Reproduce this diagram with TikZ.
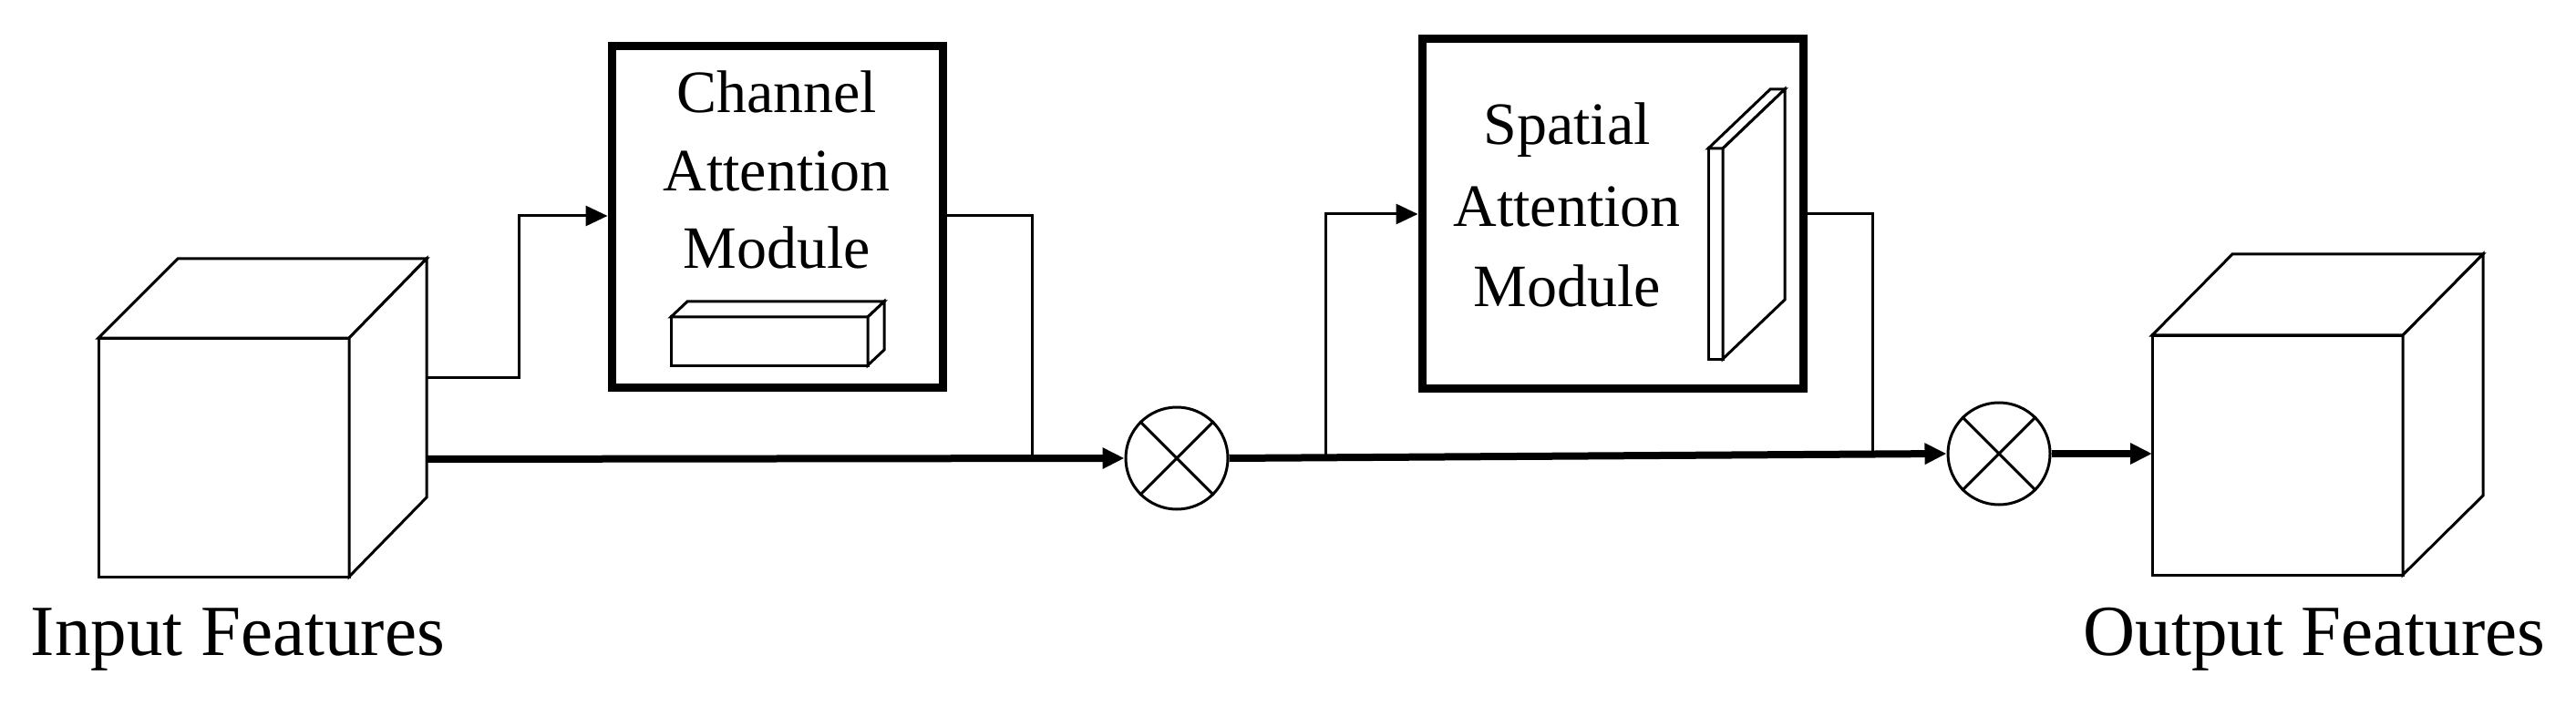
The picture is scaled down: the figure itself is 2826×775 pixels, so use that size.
\documentclass[tikz,border=0pt]{standalone}
\usepackage{fontspec}
\setmainfont{Liberation Serif}
\usetikzlibrary{arrows.meta}
\begin{document}
\begin{tikzpicture}[x=1pt,y=-1pt,line join=miter,
  thin line/.style={line width=3pt},
  thick line/.style={line width=8pt},
  arr/.style={-{Triangle[length=24pt,width=22pt]}},
  module/.style={draw,line width=9pt},
  cube/.style={draw,line width=3pt,fill=white},
  txt/.style={font=\fontsize{66}{80}\selectfont,align=center,inner sep=0pt},
  lbl/.style={font=\fontsize{79}{90}\selectfont,inner sep=0pt},
  mult/.style={draw,circle,line width=3pt,minimum size=112pt,inner sep=0pt}]
\useasboundingbox (0,0) rectangle (2826,775);
% input cube
\draw[cube] (108,371) rectangle (383,633);
\draw[cube] (108,371) -- (195,284) -- (468,284) -- (383,371) -- cycle;
\draw[cube] (383,371) -- (468,284) -- (468,546) -- (383,633) -- cycle;
\coordinate (inU) at (468,414);
\coordinate (inM) at (468,504);
% output cube
\draw[cube] (2361,368) rectangle (2636,631);
\draw[cube] (2361,368) -- (2449,279) -- (2724,279) -- (2636,368) -- cycle;
\draw[cube] (2636,368) -- (2724,279) -- (2724,544) -- (2636,631) -- cycle;
\coordinate (outM) at (2361,498);
% channel module
\node[module,minimum width=363pt,minimum height=374pt] (cam) at (852.5,238) {};
\node[txt] at (852,101) {Channel};
\node[txt] at (852,188) {Attention};
\node[txt] at (852,272) {Module};
\draw[cube] (736,348) rectangle (952,401);
\draw[cube] (736,348) -- (754,331) -- (970,331) -- (952,348) -- cycle;
\draw[cube] (952,348) -- (970,331) -- (970,384) -- (952,401) -- cycle;
% spatial module
\node[module,minimum width=418pt,minimum height=383pt] (sam) at (1769,234.5) {};
\node[txt] at (1719,143) {Spatial};
\node[txt] at (1719,227) {Attention};
\node[txt] at (1719,314) {Module};
\draw[cube] (1874,163) rectangle (1890,394);
\draw[cube] (1874,163) -- (1942,98) -- (1958,98) -- (1890,163) -- cycle;
\draw[cube] (1890,163) -- (1958,98) -- (1958,329) -- (1890,394) -- cycle;
% multipliers
\node[mult] (m1) at (1291,503) {};
\draw[thin line] (m1.45) -- (m1.225) (m1.135) -- (m1.315);
\node[mult] (m2) at (2193,498) {};
\draw[thin line] (m2.45) -- (m2.225) (m2.135) -- (m2.315);
% connectors
\draw[thin line,arr] (inU) -- (569,414) -- (569,237) -- (cam.west|-0,237);
\draw[thin line] (cam.east|-0,237) -- (1132,237) -- (1132,504);
\draw[thick line,arr] (inM) -- (m1.west);
\draw[thin line,arr] (1454,501) -- (1454,235) -- (sam.west|-0,235);
\draw[thin line] (sam.east|-0,235) -- (2054,235) -- (2054,497);
\draw[thick line,arr] (m1.east) -- (m2.west);
\draw[thick line,arr] (m2.east) -- (outM);
% labels
\node[lbl] at (261,702) {Input Features};
\node[lbl] at (2539,702) {Output Features};
\end{tikzpicture}
\end{document}
